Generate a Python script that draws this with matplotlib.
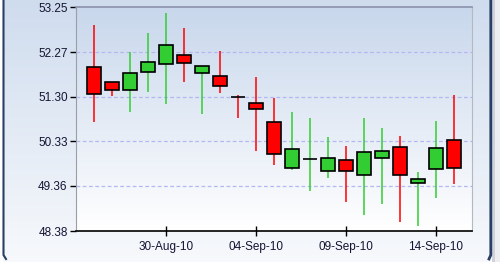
import numpy as np
import pandas as pd
import matplotlib
matplotlib.use('Agg')
import matplotlib.pyplot as plt
import matplotlib.dates as mdates
from matplotlib.patches import Rectangle
from matplotlib.colors import LinearSegmentedColormap

# data
dates = pd.date_range('2010-08-26', periods=21, freq='D')
opens = [51.94, 51.61, 51.44, 51.83, 52.00, 52.20, 51.81, 51.76, 51.30, 51.16, 50.74,
         49.76, 49.94, 49.68, 49.93, 49.59, 49.96, 50.21, 49.42, 49.72, 50.35]
closes = [51.35, 51.44, 51.81, 52.05, 52.42, 52.03, 51.96, 51.53, 51.29, 51.03, 50.06,
          50.16, 49.95, 49.96, 49.68, 50.10, 50.13, 49.59, 49.50, 50.18, 49.76]
highs = [52.86, 51.61, 52.265, 52.68, 53.11, 52.79, 51.96, 52.29, 51.33, 51.73, 51.27,
         50.96, 50.84, 50.42, 50.23, 50.84, 50.62, 50.44, 49.66, 50.77, 51.33]
lows = [50.76, 51.32, 50.97, 51.41, 51.15, 51.63, 50.93, 51.37, 50.83, 50.12, 49.82,
        49.71, 49.25, 49.54, 49.02, 48.73, 48.97, 48.58, 48.49, 49.10, 49.41]
y_ticks = [48.38, 49.36, 50.33, 51.30, 52.27, 53.25]
x_ticks = ['2010-08-30', '2010-09-04', '2010-09-09', '2010-09-14']

up_color = '#32cd32'
down_color = '#ff0000'
text_color = '#141432'

W, H = 500, 262
fig = plt.figure(figsize=(W / 100, H / 100), dpi=100)

# window background
bg = fig.add_axes([0, 0, 1, 1], zorder=-2)
bg.axis('off')
win_cmap = LinearSegmentedColormap.from_list('win', ['#cfdcee', '#f7f9fc'])
grad = np.linspace(0, 1, 256).reshape(-1, 1)
bg.add_patch(Rectangle((0, 0), W, H, facecolor='white', edgecolor='none'))
bg.imshow(grad, cmap=win_cmap, extent=[3, 491, 262, 0], aspect='auto', zorder=1)
# window frame: left and right edges only
bg.plot([3.5, 3.5, 6], [0, 255, 259], color='#2a3f66', linewidth=1.5, zorder=2)
bg.plot([490.8, 490.8, 489], [0, 255, 259], color='#2a3f66', linewidth=2.0, zorder=2)
bg.add_patch(Rectangle((492, 0), 8, 262, facecolor='#d0d3da', edgecolor='none', zorder=1))
bg.add_patch(Rectangle((495, 0), 5, 262, facecolor='#eceef2', edgecolor='none', zorder=1))
bg.set_xlim(0, W)
bg.set_ylim(H, 0)

# plot area
ax = fig.add_axes([76 / W, (H - 231) / H, (472 - 76) / W, (231 - 7) / H])
ax.patch.set_alpha(0)
plot_cmap = LinearSegmentedColormap.from_list('plot', ['#c8d7ec', '#ffffff'])
ax.imshow(grad, cmap=plot_cmap, extent=[0, 1, 0, 1], transform=ax.transAxes,
          aspect='auto', zorder=0)

x = mdates.date2num(dates)
o = np.array(opens)
c = np.array(closes)
colors = [up_color if cc > oo else down_color for oo, cc in zip(o, c)]

ax.vlines(x, lows, highs, colors=colors, linewidth=1.1, zorder=3)
ax.bar(x, np.abs(c - o), bottom=np.minimum(o, c), width=0.78, color=colors,
       edgecolor='black', linewidth=1.2, zorder=4)

ax.set_xlim(mdates.date2num(pd.Timestamp('2010-08-25')), mdates.date2num(pd.Timestamp('2010-09-16')))
ax.set_ylim(y_ticks[0], y_ticks[-1])
ax.set_yticks(y_ticks)
ax.set_yticklabels(['%.2f' % v for v in y_ticks])
ax.set_xticks(mdates.date2num(pd.to_datetime(x_ticks)))
ax.xaxis.set_major_formatter(mdates.DateFormatter('%d-%b-%y'))

for v in y_ticks[1:-1]:
    ax.axhline(v, color='#b4b8f2', linestyle=(0, (3, 2)), linewidth=0.9, zorder=1)

ax.spines['left'].set_color('#9a9ea6')
ax.spines['right'].set_color('#b4b8c0')
ax.spines['bottom'].set_color('black')
ax.spines['bottom'].set_linewidth(1.2)
ax.spines['top'].set_color('#8a92aa')
ax.spines['top'].set_linestyle((0, (3, 1)))
ax.spines['top'].set_linewidth(1.2)

ax.tick_params(axis='y', direction='out', length=4, width=1, color='black',
               labelsize=8.5, labelcolor=text_color, pad=2)
ax.tick_params(axis='x', direction='inout', length=7, width=1, color='black',
               labelsize=8.5, labelcolor=text_color, pad=4)
for lab in ax.get_xticklabels() + ax.get_yticklabels():
    lab.set_family('Liberation Sans')

fig.savefig('out.png', dpi=100)
